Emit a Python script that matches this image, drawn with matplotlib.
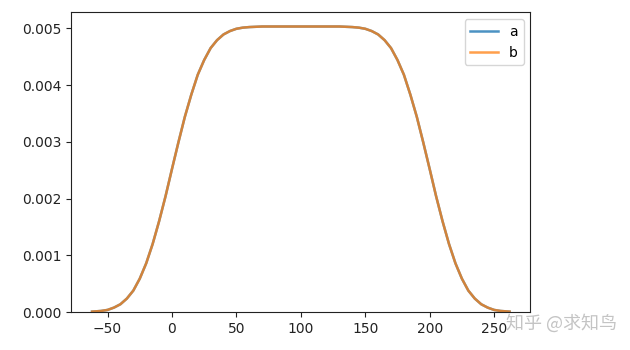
import matplotlib
matplotlib.use("Agg")
import matplotlib.pyplot as plt

# values (density curves of two series, a and b, identical)
x_vals = [-62, -55, -50, -45, -40, -35, -30, -25, -20, -15, -10, -5, 0, 5, 10, 15, 20, 25,
          30, 35, 40, 45, 50, 55, 60, 70, 80, 90, 100, 110, 120, 130, 140, 145, 150, 155,
          160, 165, 170, 175, 180, 185, 190, 195, 200, 205, 210, 215, 220, 225, 230, 235,
          240, 245, 250, 255, 262]
a_vals = [0.00001, 0.000022, 0.00004, 0.000081, 0.00014, 0.00024, 0.00038, 0.00059, 0.00086,
          0.00120, 0.00160, 0.00204, 0.00252, 0.00299, 0.00344, 0.00383, 0.00418, 0.00444,
          0.00465, 0.00479, 0.00489, 0.00495, 0.00499, 0.00501, 0.00502, 0.00503, 0.00503,
          0.00503, 0.00503, 0.00503, 0.00503, 0.00503, 0.00502, 0.00501, 0.00499, 0.00495,
          0.00489, 0.00479, 0.00465, 0.00444, 0.00418, 0.00383, 0.00344, 0.00299, 0.00252,
          0.00204, 0.00160, 0.00120, 0.00086, 0.00059, 0.00038, 0.00024, 0.00014, 0.000081,
          0.00004, 0.000022, 0.00001]
b_vals = list(a_vals)
series_names = ["a", "b"]

fig = plt.figure(figsize=(6.3, 3.5), dpi=100)
ax = fig.add_axes([0.113, 0.108, 0.729, 0.857])
ax.plot(x_vals, a_vals, color="#1f77b4", lw=1.8, alpha=0.8, label=series_names[0])
ax.plot(x_vals, b_vals, color="#ff7f0e", lw=1.8, alpha=0.75, label=series_names[1])
ax.set_ylim(0, None)
ax.set_xticks([-50, 0, 50, 100, 150, 200, 250])
ax.set_yticks([0.000, 0.001, 0.002, 0.003, 0.004, 0.005])
ax.set_yticklabels(["0.000", "0.001", "0.002", "0.003", "0.004", "0.005"])
ax.tick_params(labelsize=10, colors="#222222")
for s in ax.spines.values():
    s.set_color("#222222")
ax.legend(loc="upper right", fontsize=10)

fig.text(0.892, 0.077, "知乎 @求知鸟", family=["Noto Sans CJK SC", "DejaVu Sans"],
         fontsize=13, color="#c4c4c4", ha="center", va="center")

fig.savefig("out.png", dpi=100)
